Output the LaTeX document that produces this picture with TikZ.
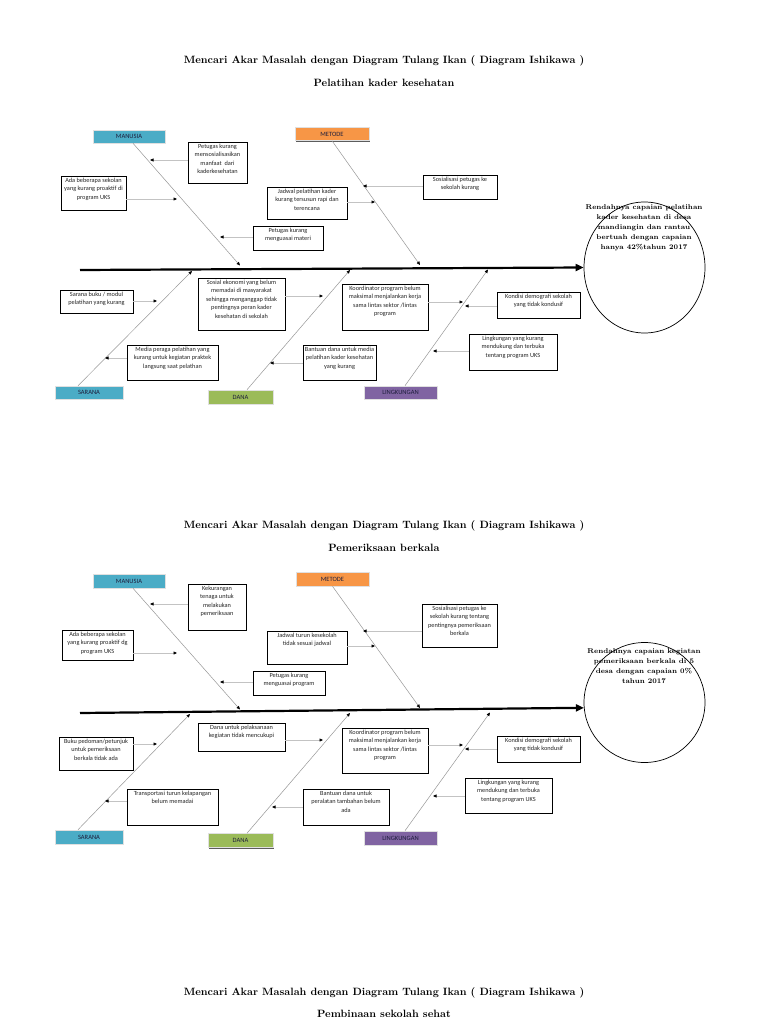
\documentclass[tikz,border=0pt]{standalone}
\usepackage{fontspec}
\newfontfamily\cfont{Carlito}
\usetikzlibrary{shapes.geometric,arrows.meta,shadows}
\definecolor{manblue}{RGB}{75,172,198}
\definecolor{metorange}{RGB}{247,150,70}
\definecolor{danagreen}{RGB}{155,187,89}
\definecolor{lingpurple}{RGB}{128,100,162}
\definecolor{bonegray}{RGB}{150,150,150}
\definecolor{linkgray}{RGB}{195,195,195}
\definecolor{hdrtext}{RGB}{30,30,60}
% text of a cause box: width, height, lines
\newcommand{\cbx}[3]{\parbox[c][#2pt][t]{#1pt}{\centering\vspace{2pt}#3}}

\begin{document}
\begin{tikzpicture}[
    x=1pt, y=-1pt,
    cause/.style={draw, line width=0.7pt, fill=white, inner sep=0pt,
                  font=\cfont\fontsize{6.3}{8.5}\selectfont, text=black!85},
    hdr/.style={fill=#1, draw=black!12, line width=0.6pt, minimum height=13pt, inner sep=0pt,
                font=\cfont\fontsize{6.5}{7}\selectfont, text=hdrtext,
                drop shadow={shadow xshift=1.4pt, shadow yshift=-1.4pt, fill=black!80, opacity=0.8}},
    title/.style={font=\fontsize{10.6}{12}\selectfont\bfseries},
    effect/.style={ellipse, draw, line width=0.7pt, inner sep=0pt},
    efftext/.style={font=\fontsize{7}{10}\selectfont\bfseries, align=center},
    link/.style={draw=linkgray, line width=0.6pt, -{Triangle[length=3.5pt,width=3pt,color=black]}},
    bone/.style={draw=bonegray, line width=0.5pt, -{Triangle[length=3.5pt,width=3pt,color=black]}},
    spine/.style={line width=2.2pt, -{Triangle[length=8pt,width=7pt]}}
]
\useasboundingbox (0,0) rectangle (768,1024);

% ---------------- first diagram
\node[title] (t1a) at (384,61) {Mencari Akar Masalah dengan Diagram Tulang Ikan ( Diagram Ishikawa )};
\node[title] (t1b) at (384,83) {Pelatihan kader kesehatan};

\node[effect, minimum width=121pt, minimum height=131pt] (eff1) at (644.5,267.5) {};
\node[efftext] (eff1txt) at (644,227.5) {Rendahnya capaian pelatihan\\kader kesehatan di desa\\mandiangin dan rantau\\bertuah dengan capaian\\hanya 42\%tahun 2017};

\coordinate (tail1) at (80,270);
\draw[spine] (tail1) -- (eff1.west);

\node[hdr=manblue, minimum width=72pt] (man1) at (129,136.5) {MANUSIA};
\node[hdr=metorange, minimum width=74pt] (met1) at (332,134) {METODE};
\node[hdr=manblue, minimum width=68pt] (sar1) at (89,392.5) {SARANA};
\node[hdr=danagreen, minimum width=65pt, minimum height=14pt] (dana1) at (240.5,397) {DANA};
\node[hdr=lingpurple, minimum width=73pt] (ling1) at (400.5,392.5) {LINGKUNGAN};

\coordinate (man1tip) at (240,265.5);
\coordinate (met1tip) at (420,265);
\coordinate (sar1tip) at (192,271);
\coordinate (dana1tip) at (350,270);
\coordinate (ling1tip) at (488,269.5);
\draw[bone] ([xshift=4pt]man1.south) -- (man1tip);
\draw[bone] (met1.south) -- (met1tip);
\draw[bone] ([xshift=-11pt]sar1.north) -- (sar1tip);
\draw[bone] ([xshift=6.5pt]dana1.north) -- (dana1tip);
\draw[bone] ([xshift=4.5pt]ling1.north) -- (ling1tip);

\node[cause] (man1-a) at (217.5,162.5) {\cbx{59}{41}{Petugas kurang\\mensosialisasikan\\manfaat\ \ dari\\kaderkesehatan}};
\node[cause] (man1-b) at (93.5,193) {\cbx{65}{34}{Ada beberapa sekolan\\yang kurang proaktif di\\program UKS}};
\node[cause] (man1-c) at (288,238) {\cbx{70}{24}{Petugas kurang\\menguasai materi}};
\node[cause] (met1-a) at (460,187) {\cbx{74}{24}{Sosialisasi petugas ke\\sekolah kurang}};
\node[cause] (met1-b) at (307,203) {\cbx{80}{32}{Jadwal pelatihan kader\\kurang tersusun rapi dan\\terencana}};
\node[cause] (sar1-a) at (96.5,301.5) {\cbx{73}{23}{Sarana buku / modul\\pelatihan yang kurang}};
\node[cause] (sar1-b) at (172.5,362.5) {\cbx{91}{35}{Media peraga pelatihan yang\\kurang untuk kegiatan praktek\\langsung saat pelathan}};
\node[cause] (dana1-a) at (241.5,304) {\cbx{87}{52}{Sosial ekonomi yang belum\\memadai di masyarakat\\sehingga menganggap tidak\\pentingnya peran kader\\kesehatan di sekolah}};
\node[cause] (dana1-b) at (339.5,362.5) {\cbx{73}{35}{Bantuan dana untuk media\\pelatihan kader kesehatan\\yang kurang}};
\node[cause] (ling1-a) at (385,307) {\cbx{86}{46}{Koordinator program belum\\maksimal menjalankan kerja\\sama lintas sektor /lintas\\program}};
\node[cause] (ling1-b) at (538.5,305) {\cbx{83}{26}{Kondisi demografi sekolah\\yang tidak kondusif}};
\node[cause] (ling1-c) at (513,352) {\cbx{88}{36}{Lingkungan yang kurang\\mendukung dan terbuka\\tentang program UKS}};

\coordinate (man1-a-tip) at (150,160);
\coordinate (man1-b-tip) at (177,199);
\coordinate (man1-c-tip) at (220,237);
\coordinate (met1-a-tip) at (363,186);
\coordinate (met1-b-tip) at (375,202);
\coordinate (sar1-a-tip) at (157,301);
\coordinate (sar1-b-tip) at (105,358);
\coordinate (dana1-a-tip) at (323,296);
\coordinate (dana1-b-tip) at (270,363);
\coordinate (ling1-a-tip) at (463,302);
\coordinate (ling1-b-tip) at (465,306);
\coordinate (ling1-c-tip) at (433,351);
\draw[link] (man1-a-tip -| man1-a.west) -- (man1-a-tip);
\draw[link] (man1-b-tip -| man1-b.east) -- (man1-b-tip);
\draw[link] (man1-c-tip -| man1-c.west) -- (man1-c-tip);
\draw[link] (met1-a-tip -| met1-a.west) -- (met1-a-tip);
\draw[link] (met1-b-tip -| met1-b.east) -- (met1-b-tip);
\draw[link] (sar1-a-tip -| sar1-a.east) -- (sar1-a-tip);
\draw[link] (sar1-b-tip -| sar1-b.west) -- (sar1-b-tip);
\draw[link] (dana1-a-tip -| dana1-a.east) -- (dana1-a-tip);
\draw[link] (dana1-b-tip -| dana1-b.west) -- (dana1-b-tip);
\draw[link] (ling1-a-tip -| ling1-a.east) -- (ling1-a-tip);
\draw[link] (ling1-b-tip -| ling1-b.west) -- (ling1-b-tip);
\draw[link] (ling1-c-tip -| ling1-c.west) -- (ling1-c-tip);

% ---------------- second diagram
\node[title] (t2a) at (384,526) {Mencari Akar Masalah dengan Diagram Tulang Ikan ( Diagram Ishikawa )};
\node[title] (t2b) at (384,548) {Pemeriksaan berkala};

\node[effect, minimum width=121pt, minimum height=120pt] (eff2) at (644.5,702.5) {};
\node[efftext] (eff2txt) at (644,666) {Rendahnya capaian kegiatan\\pemeriksaan berkala di 5\\desa dengan capaian 0\%\\tahun 2017};

\coordinate (tail2) at (80,713);
\draw[spine] (tail2) -- (eff2.185);

\node[hdr=manblue, minimum width=72pt, minimum height=14pt] (man2) at (129,581) {MANUSIA};
\node[hdr=metorange, minimum width=73pt, minimum height=14pt] (met2) at (332.5,579) {METODE};
\node[hdr=manblue, minimum width=68pt, minimum height=14pt] (sar2) at (89,837) {SARANA};
\node[hdr=danagreen, minimum width=65pt, minimum height=14pt] (dana2) at (240.5,840.5) {DANA};
\node[hdr=lingpurple, minimum width=73pt, minimum height=14pt] (ling2) at (400.5,838) {LINGKUNGAN};

\coordinate (man2tip) at (240,709.5);
\coordinate (met2tip) at (420,708);
\coordinate (sar2tip) at (190,714);
\coordinate (dana2tip) at (350,713);
\coordinate (ling2tip) at (490,712.5);
\draw[bone] ([xshift=4pt]man2.south) -- (man2tip);
\draw[bone] (met2.south) -- (met2tip);
\draw[bone] ([xshift=-11pt]sar2.north) -- (sar2tip);
\draw[bone] ([xshift=6.5pt]dana2.north) -- (dana2tip);
\draw[bone] ([xshift=4.5pt]ling2.north) -- (ling2tip);

\node[cause] (man2-a) at (217,607) {\cbx{58}{46}{Kekurangan\\tenaga untuk\\melakukan\\pemeriksaan}};
\node[cause] (man2-b) at (97.5,645) {\cbx{71}{30}{Ada beberapa sekolan\\yang kurang proaktif dg\\program UKS}};
\node[cause] (man2-c) at (289,683) {\cbx{72}{24}{Petugas kurang\\menguasai program}};
\node[cause] (met2-a) at (459.5,625.5) {\cbx{75}{43}{Sosialisasi petugas ke\\sekolah kurang tentang\\pentingnya pemeriksaan\\berkala}};
\node[cause] (met2-b) at (307,647.5) {\cbx{80}{33}{Jadwal turun kesekolah\\tidak sesuai jadwal}};
\node[cause] (sar2-a) at (96,753.5) {\cbx{74}{33}{Buku pedoman/petunjuk\\untuk pemeriksaan\\berkala tidak ada}};
\node[cause] (sar2-b) at (172.5,807) {\cbx{91}{36}{Transportasi turun kelapangan\\belum memadai}};
\node[cause] (dana2-a) at (241.5,737) {\cbx{87}{28}{Dana untuk pelaksanaan\\kegiatan tidak mencukupi}};
\node[cause] (dana2-b) at (346,807) {\cbx{86}{36}{Bantuan dana untuk\\peralatan tambahan belum\\ada}};
\node[cause] (ling2-a) at (385,750.5) {\cbx{86}{45}{Koordinator program belum\\maksimal menjalankan kerja\\sama lintas sektor /lintas\\program}};
\node[cause] (ling2-b) at (538.5,749) {\cbx{83}{26}{Kondisi demografi sekolah\\yang tidak kondusif}};
\node[cause] (ling2-c) at (508.5,795.5) {\cbx{87}{35}{Lingkungan yang kurang\\mendukung dan terbuka\\tentang program UKS}};

\coordinate (man2-a-tip) at (150,604);
\coordinate (man2-b-tip) at (177,653);
\coordinate (man2-c-tip) at (220,682);
\coordinate (met2-a-tip) at (363,631);
\coordinate (met2-b-tip) at (375,646);
\coordinate (sar2-a-tip) at (157,744);
\coordinate (sar2-b-tip) at (105,801);
\coordinate (dana2-a-tip) at (323,740);
\coordinate (dana2-b-tip) at (272,807);
\coordinate (ling2-a-tip) at (463,745);
\coordinate (ling2-b-tip) at (465,749);
\coordinate (ling2-c-tip) at (433,796);
\draw[link] (man2-a-tip -| man2-a.west) -- (man2-a-tip);
\draw[link] (man2-b-tip -| man2-b.east) -- (man2-b-tip);
\draw[link] (man2-c-tip -| man2-c.west) -- (man2-c-tip);
\draw[link] (met2-a-tip -| met2-a.west) -- (met2-a-tip);
\draw[link] (met2-b-tip -| met2-b.east) -- (met2-b-tip);
\draw[link] (sar2-a-tip -| sar2-a.east) -- (sar2-a-tip);
\draw[link] (sar2-b-tip -| sar2-b.west) -- (sar2-b-tip);
\draw[link] (dana2-a-tip -| dana2-a.east) -- (dana2-a-tip);
\draw[link] (dana2-b-tip -| dana2-b.west) -- (dana2-b-tip);
\draw[link] (ling2-a-tip -| ling2-a.east) -- (ling2-a-tip);
\draw[link] (ling2-b-tip -| ling2-b.west) -- (ling2-b-tip);
\draw[link] (ling2-c-tip -| ling2-c.west) -- (ling2-c-tip);

% ---------------- third title
\node[title] (t3a) at (384,993) {Mencari Akar Masalah dengan Diagram Tulang Ikan ( Diagram Ishikawa )};
\node[title] (t3b) at (384,1014) {Pembinaan sekolah sehat};

\end{tikzpicture}
\end{document}
